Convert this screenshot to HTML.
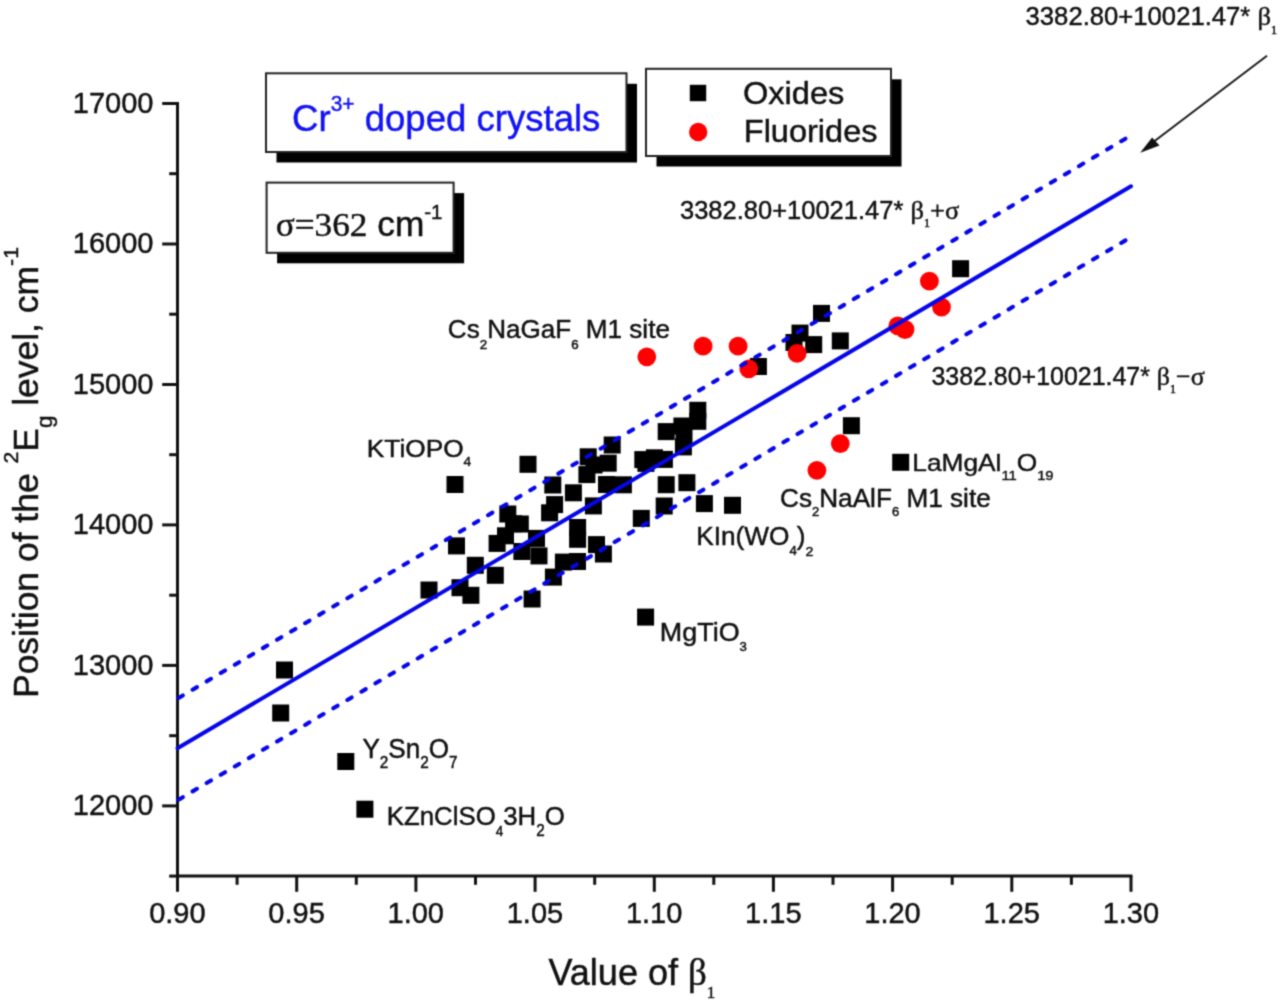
<!DOCTYPE html>
<html><head><meta charset="utf-8"><title>Cr3+ doped crystals: 2Eg level vs beta1</title>
<style>html,body{margin:0;padding:0;background:#fff;}body{width:1280px;height:1004px;overflow:hidden;}svg{display:block;}text{font-family:"Liberation Sans", Arial, Helvetica, sans-serif;fill:#111;stroke:#111;stroke-width:0.45px;}.sf{font-family:"Liberation Serif", "Times New Roman", serif;}.bl{fill:#1212f4;stroke:#1212f4;}</style></head><body>
<svg width="1280" height="1004" viewBox="0 0 1280 1004">
<defs><filter id="soft" filterUnits="userSpaceOnUse" x="0" y="0" width="1280" height="1004" color-interpolation-filters="sRGB"><feConvolveMatrix order="3" kernelMatrix="0.0361 0.1178 0.0361 0.1178 0.3846 0.1178 0.0361 0.1178 0.0361" edgeMode="duplicate"/></filter></defs>
<g filter="url(#soft)">
<rect x="0" y="0" width="1280" height="1004" fill="#fff"/>
<g id="B_title"><rect x="276.5" y="83.8" width="360.5" height="78.7" fill="#000"/><rect x="266.0" y="73.3" width="360.5" height="78.7" fill="#fff" stroke="#222" stroke-width="2"/></g>
<g id="B_sigma"><rect x="277.1" y="193.1" width="187.0" height="70.2" fill="#000"/><rect x="266.6" y="182.6" width="187.0" height="70.2" fill="#fff" stroke="#222" stroke-width="2"/></g>
<g id="B_leg"><rect x="656.5" y="79.3" width="245.0" height="87.2" fill="#000"/><rect x="646.0" y="68.8" width="245.0" height="87.2" fill="#fff" stroke="#222" stroke-width="2"/></g>
<g id="L_title" transform="matrix(0.99653,0,0,1.01463,0.101,-1.008)"><text x="293" y="129.75" font-size="36.7" class="bl">Cr<tspan class="sb" font-size="21" dy="-19.8">3+</tspan><tspan dy="19.8"> doped crystals</tspan></text></g>
<g id="L_sigma" transform="matrix(1.02302,0,0,0.99340,-7.721,1.529)"><text x="277" y="235.6" font-size="34.5"><tspan class="sf">σ=362</tspan> cm<tspan font-size="20" dy="-17">-1</tspan></text></g>
<rect x="689.8" y="84.8" width="16.4" height="16.4" fill="#000"/>
<circle cx="698.2" cy="132" r="9.2" fill="#f00"/>
<g id="L_ox" transform="matrix(1.03441,0,0,0.98262,-26.599,2.407)"><text x="744" y="103" font-size="31.5">Oxides</text></g>
<g id="L_fl" transform="matrix(1.03191,0,0,0.97281,-24.962,4.119)"><text x="745" y="142.2" font-size="31.5">Fluorides</text></g>
<g id="AX"><line x1="177.5" y1="102.0" x2="177.5" y2="876.1" stroke="#111" stroke-width="3"/>
<line x1="176.0" y1="876.1" x2="1132.5" y2="876.1" stroke="#111" stroke-width="3"/>
<line x1="177.5" y1="876.1" x2="177.5" y2="891.8" stroke="#111" stroke-width="3"/>
<line x1="237.1" y1="876.1" x2="237.1" y2="884.8" stroke="#111" stroke-width="3"/>
<line x1="296.7" y1="876.1" x2="296.7" y2="891.8" stroke="#111" stroke-width="3"/>
<line x1="356.3" y1="876.1" x2="356.3" y2="884.8" stroke="#111" stroke-width="3"/>
<line x1="415.9" y1="876.1" x2="415.9" y2="891.8" stroke="#111" stroke-width="3"/>
<line x1="475.5" y1="876.1" x2="475.5" y2="884.8" stroke="#111" stroke-width="3"/>
<line x1="535.1" y1="876.1" x2="535.1" y2="891.8" stroke="#111" stroke-width="3"/>
<line x1="594.7" y1="876.1" x2="594.7" y2="884.8" stroke="#111" stroke-width="3"/>
<line x1="654.3" y1="876.1" x2="654.3" y2="891.8" stroke="#111" stroke-width="3"/>
<line x1="713.8" y1="876.1" x2="713.8" y2="884.8" stroke="#111" stroke-width="3"/>
<line x1="773.4" y1="876.1" x2="773.4" y2="891.8" stroke="#111" stroke-width="3"/>
<line x1="833.0" y1="876.1" x2="833.0" y2="884.8" stroke="#111" stroke-width="3"/>
<line x1="892.6" y1="876.1" x2="892.6" y2="891.8" stroke="#111" stroke-width="3"/>
<line x1="952.2" y1="876.1" x2="952.2" y2="884.8" stroke="#111" stroke-width="3"/>
<line x1="1011.8" y1="876.1" x2="1011.8" y2="891.8" stroke="#111" stroke-width="3"/>
<line x1="1071.4" y1="876.1" x2="1071.4" y2="884.8" stroke="#111" stroke-width="3"/>
<line x1="1131.0" y1="876.1" x2="1131.0" y2="891.8" stroke="#111" stroke-width="3"/>
<line x1="169.2" y1="876.1" x2="177.5" y2="876.1" stroke="#111" stroke-width="3"/>
<line x1="162.2" y1="805.9" x2="177.5" y2="805.9" stroke="#111" stroke-width="3"/>
<line x1="169.2" y1="735.7" x2="177.5" y2="735.7" stroke="#111" stroke-width="3"/>
<line x1="162.2" y1="665.4" x2="177.5" y2="665.4" stroke="#111" stroke-width="3"/>
<line x1="169.2" y1="595.2" x2="177.5" y2="595.2" stroke="#111" stroke-width="3"/>
<line x1="162.2" y1="524.9" x2="177.5" y2="524.9" stroke="#111" stroke-width="3"/>
<line x1="169.2" y1="454.7" x2="177.5" y2="454.7" stroke="#111" stroke-width="3"/>
<line x1="162.2" y1="384.5" x2="177.5" y2="384.5" stroke="#111" stroke-width="3"/>
<line x1="169.2" y1="314.2" x2="177.5" y2="314.2" stroke="#111" stroke-width="3"/>
<line x1="162.2" y1="244.0" x2="177.5" y2="244.0" stroke="#111" stroke-width="3"/>
<line x1="169.2" y1="173.7" x2="177.5" y2="173.7" stroke="#111" stroke-width="3"/>
<line x1="162.2" y1="103.5" x2="177.5" y2="103.5" stroke="#111" stroke-width="3"/>
</g>
<g transform="translate(-953.5,0)"><g id="L_x0" transform="matrix(1.00053,0,0,1.00000,-0.689,-0.060)"><text x="1131.0" y="923" font-size="29" text-anchor="middle">0.90</text></g>
</g>
<g transform="translate(-834.31,0)"><g id="L_x2" transform="matrix(1.00053,0,0,1.00000,-0.689,-0.060)"><text x="1131.0" y="923" font-size="29" text-anchor="middle">0.95</text></g>
</g>
<g transform="translate(-715.12,0)"><g id="L_x4" transform="matrix(1.00053,0,0,1.00000,-0.689,-0.060)"><text x="1131.0" y="923" font-size="29" text-anchor="middle">1.00</text></g>
</g>
<g transform="translate(-595.94,0)"><g id="L_x6" transform="matrix(1.00053,0,0,1.00000,-0.689,-0.060)"><text x="1131.0" y="923" font-size="29" text-anchor="middle">1.05</text></g>
</g>
<g transform="translate(-476.75,0)"><g id="L_x8" transform="matrix(1.00053,0,0,1.00000,-0.689,-0.060)"><text x="1131.0" y="923" font-size="29" text-anchor="middle">1.10</text></g>
</g>
<g transform="translate(-357.56,0)"><g id="L_x10" transform="matrix(1.00053,0,0,1.00000,-0.689,-0.060)"><text x="1131.0" y="923" font-size="29" text-anchor="middle">1.15</text></g>
</g>
<g transform="translate(-238.37,0)"><g id="L_x12" transform="matrix(1.00053,0,0,1.00000,-0.689,-0.060)"><text x="1131.0" y="923" font-size="29" text-anchor="middle">1.20</text></g>
</g>
<g transform="translate(-119.19,0)"><g id="L_x14" transform="matrix(1.00053,0,0,1.00000,-0.689,-0.060)"><text x="1131.0" y="923" font-size="29" text-anchor="middle">1.25</text></g>
</g>
<g transform="translate(0.0,0)"><g id="L_xref" transform="matrix(1.00053,0,0,1.00000,-0.689,-0.060)"><text x="1131.0" y="923" font-size="29" text-anchor="middle">1.30</text></g>
</g>
<g transform="translate(0,0.0)"><g id="L_yref" transform="matrix(1.00259,0,0,1.00000,0.628,-0.655)"><text x="152.5" y="815.9" font-size="29" text-anchor="end">12000</text></g>
</g>
<g transform="translate(0,-140.48)"><g id="L_y13000" transform="matrix(1.00259,0,0,1.00000,0.628,-0.655)"><text x="152.5" y="815.9" font-size="29" text-anchor="end">13000</text></g>
</g>
<g transform="translate(0,-280.96)"><g id="L_y14000" transform="matrix(1.00259,0,0,1.00000,0.628,-0.655)"><text x="152.5" y="815.9" font-size="29" text-anchor="end">14000</text></g>
</g>
<g transform="translate(0,-421.44)"><g id="L_y15000" transform="matrix(1.00259,0,0,1.00000,0.628,-0.655)"><text x="152.5" y="815.9" font-size="29" text-anchor="end">15000</text></g>
</g>
<g transform="translate(0,-561.92)"><g id="L_y16000" transform="matrix(1.00259,0,0,1.00000,0.628,-0.655)"><text x="152.5" y="815.9" font-size="29" text-anchor="end">16000</text></g>
</g>
<g transform="translate(0,-702.4)"><g id="L_y17000" transform="matrix(1.00259,0,0,1.00000,0.628,-0.655)"><text x="152.5" y="815.9" font-size="29" text-anchor="end">17000</text></g>
</g>
<g id="L_xt" transform="matrix(1.00000,0,0,1.00000,0.000,0.000)"><text x="548.5" y="984.5" font-size="36">Value of <tspan class="sf" font-size="37">β</tspan><tspan class="sf" font-size="17" dy="13">1</tspan></text></g>
<g id="L_ytw" transform="translate(37.8,697) rotate(-90)"><g id="L_yt" transform="matrix(1.04278,0,0,1.02444,-0.984,-0.035)"><text x="0" y="0" font-size="34">Position of the <tspan font-size="20.4" dy="-19.7">2</tspan><tspan dy="19.7">E</tspan><tspan font-size="21.5" dy="14">g</tspan><tspan dy="-14"> level, cm</tspan><tspan font-size="20.4" dy="-19.7">-1</tspan></text></g>
</g>
<g id="D"><rect x="272.2" y="704.5" width="17" height="17" fill="#000"/>
<rect x="276.0" y="661.5" width="17" height="17" fill="#000"/>
<rect x="337.3" y="753.0" width="17" height="17" fill="#000"/>
<rect x="356.4" y="800.7" width="17" height="17" fill="#000"/>
<rect x="420.5" y="581.5" width="17" height="17" fill="#000"/>
<rect x="446.5" y="476.0" width="17" height="17" fill="#000"/>
<rect x="448.0" y="537.4" width="17" height="17" fill="#000"/>
<rect x="451.5" y="579.2" width="17" height="17" fill="#000"/>
<rect x="462.4" y="586.8" width="17" height="17" fill="#000"/>
<rect x="466.8" y="556.8" width="17" height="17" fill="#000"/>
<rect x="486.8" y="566.8" width="17" height="17" fill="#000"/>
<rect x="488.6" y="534.9" width="17" height="17" fill="#000"/>
<rect x="497.0" y="527.3" width="17" height="17" fill="#000"/>
<rect x="505.1" y="515.3" width="17" height="17" fill="#000"/>
<rect x="499.3" y="505.5" width="17" height="17" fill="#000"/>
<rect x="511.8" y="515.5" width="17" height="17" fill="#000"/>
<rect x="513.4" y="543.0" width="17" height="17" fill="#000"/>
<rect x="519.5" y="455.8" width="17" height="17" fill="#000"/>
<rect x="523.6" y="590.5" width="17" height="17" fill="#000"/>
<rect x="528.0" y="529.9" width="17" height="17" fill="#000"/>
<rect x="530.5" y="547.4" width="17" height="17" fill="#000"/>
<rect x="541.1" y="504.3" width="17" height="17" fill="#000"/>
<rect x="546.1" y="496.1" width="17" height="17" fill="#000"/>
<rect x="544.3" y="476.5" width="17" height="17" fill="#000"/>
<rect x="544.9" y="568.6" width="17" height="17" fill="#000"/>
<rect x="554.9" y="553.6" width="17" height="17" fill="#000"/>
<rect x="569.0" y="553.0" width="17" height="17" fill="#000"/>
<rect x="564.9" y="484.3" width="17" height="17" fill="#000"/>
<rect x="569.1" y="519.0" width="17" height="17" fill="#000"/>
<rect x="569.1" y="530.8" width="17" height="17" fill="#000"/>
<rect x="584.9" y="497.4" width="17" height="17" fill="#000"/>
<rect x="588.0" y="536.1" width="17" height="17" fill="#000"/>
<rect x="594.9" y="545.5" width="17" height="17" fill="#000"/>
<rect x="598.0" y="476.0" width="17" height="17" fill="#000"/>
<rect x="614.9" y="476.3" width="17" height="17" fill="#000"/>
<rect x="578.4" y="466.1" width="17" height="17" fill="#000"/>
<rect x="579.7" y="448.3" width="17" height="17" fill="#000"/>
<rect x="599.7" y="454.7" width="17" height="17" fill="#000"/>
<rect x="603.7" y="436.5" width="17" height="17" fill="#000"/>
<rect x="632.8" y="509.9" width="17" height="17" fill="#000"/>
<rect x="637.1" y="608.6" width="17" height="17" fill="#000"/>
<rect x="634.3" y="451.1" width="17" height="17" fill="#000"/>
<rect x="645.9" y="449.3" width="17" height="17" fill="#000"/>
<rect x="655.9" y="450.9" width="17" height="17" fill="#000"/>
<rect x="657.7" y="423.1" width="17" height="17" fill="#000"/>
<rect x="673.4" y="417.5" width="17" height="17" fill="#000"/>
<rect x="674.9" y="438.4" width="17" height="17" fill="#000"/>
<rect x="689.3" y="401.8" width="17" height="17" fill="#000"/>
<rect x="689.3" y="412.8" width="17" height="17" fill="#000"/>
<rect x="657.7" y="476.2" width="17" height="17" fill="#000"/>
<rect x="678.4" y="474.2" width="17" height="17" fill="#000"/>
<rect x="655.7" y="497.5" width="17" height="17" fill="#000"/>
<rect x="695.9" y="495.1" width="17" height="17" fill="#000"/>
<rect x="724.0" y="496.8" width="17" height="17" fill="#000"/>
<rect x="749.9" y="358.0" width="17" height="17" fill="#000"/>
<rect x="785.5" y="334.0" width="17" height="17" fill="#000"/>
<rect x="791.5" y="324.6" width="17" height="17" fill="#000"/>
<rect x="805.2" y="336.1" width="17" height="17" fill="#000"/>
<rect x="813.0" y="304.9" width="17" height="17" fill="#000"/>
<rect x="831.8" y="332.4" width="17" height="17" fill="#000"/>
<rect x="842.9" y="417.2" width="17" height="17" fill="#000"/>
<rect x="892.2" y="453.8" width="17" height="17" fill="#000"/>
<rect x="952.1" y="260.2" width="17" height="17" fill="#000"/>
<rect x="585.5" y="456.5" width="17" height="17" fill="#000"/>
<rect x="637.4" y="454.9" width="17" height="17" fill="#000"/>
<rect x="675.5" y="429.0" width="17" height="17" fill="#000"/>
<circle cx="646.8" cy="356.8" r="9.4" fill="#f00"/>
<circle cx="703.1" cy="346.2" r="9.4" fill="#f00"/>
<circle cx="738.1" cy="346.2" r="9.4" fill="#f00"/>
<circle cx="748.8" cy="368.8" r="9.4" fill="#f00"/>
<circle cx="797.1" cy="353.4" r="9.4" fill="#f00"/>
<circle cx="816.9" cy="470.3" r="9.4" fill="#f00"/>
<circle cx="840.3" cy="443.6" r="9.4" fill="#f00"/>
<circle cx="897.8" cy="325.9" r="9.4" fill="#f00"/>
<circle cx="905.0" cy="329.5" r="9.4" fill="#f00"/>
<circle cx="929.4" cy="281.2" r="9.4" fill="#f00"/>
<circle cx="941.5" cy="307.1" r="9.4" fill="#f00"/>
<line x1="177.5" y1="748.3" x2="1131.0" y2="186.3" stroke="#0606e8" stroke-width="4.0" stroke-linecap="round"/>
<line x1="177.5" y1="698.6" x2="1131.0" y2="135.4" stroke="#0606e8" stroke-width="4.1" stroke-dasharray="5 11.34" stroke-dashoffset="-1.2" stroke-linecap="round"/>
<line x1="177.5" y1="800.3" x2="1131.0" y2="237.1" stroke="#0606e8" stroke-width="4.1" stroke-dasharray="5 11.34" stroke-dashoffset="-1.2" stroke-linecap="round"/>
<line x1="1267" y1="55.8" x2="1152" y2="143" stroke="#1a1a1a" stroke-width="2"/>
<polygon points="1140.2,152.8 1152.1,137.4 1159.5,145.6" fill="#111"/>
</g>
<g id="L_ann_top" transform="matrix(1.02687,0,0,1.00000,-28.494,1.200)"><text x="1026.5" y="23.8" font-size="25">3382.80+10021.47* <tspan class="sf" font-size="26">β</tspan><tspan class="sf" font-size="12" dy="9">1</tspan></text></g>
<g id="L_ann_p" transform="matrix(1.02005,0,0,1.00000,-13.625,0.775)"><text x="680" y="218.6" font-size="25">3382.80+10021.47* <tspan class="sf" font-size="26">β</tspan><tspan class="sf" font-size="12" dy="8">1</tspan><tspan class="sf" font-size="26" dy="-8">+σ</tspan></text></g>
<g id="L_ann_m" transform="matrix(0.99810,0,0,1.00000,2.173,1.505)"><text x="931" y="383.8" font-size="25">3382.80+10021.47* <tspan class="sf" font-size="26">β</tspan><tspan class="sf" font-size="12" dy="8">1</tspan><tspan class="sf" font-size="26" dy="-8">−σ</tspan></text></g>
<g id="L_csga" transform="matrix(1.04329,0,0,0.99857,-20.300,0.787)"><text x="448.75" y="338" font-size="25"><tspan>Cs</tspan><tspan class="sb" font-size="12.8" dy="10.75">2</tspan><tspan dy="-10.75">NaGaF</tspan><tspan class="sb" font-size="12.8" dy="10.75">6</tspan><tspan dy="-10.75"> M1 site</tspan></text></g>
<g id="L_ktio" transform="matrix(1.05109,0,0,0.99367,-20.497,2.091)"><text x="368.5" y="458" font-size="25"><tspan>KTiOPO</tspan><tspan class="sb" font-size="13" dy="9.3">4</tspan></text></g>
<g id="L_kin" transform="matrix(1.04987,0,0,1.01249,-35.549,-5.767)"><text x="697" y="543.5" font-size="25"><tspan>KIn(WO</tspan><tspan class="sb" font-size="12.5" dy="10.6">4</tspan><tspan dy="-10.6">)</tspan><tspan class="sb" font-size="13.5" dy="11.6">2</tspan></text></g>
<g id="L_csal" transform="matrix(1.04629,0,0,1.05826,-37.134,-28.576)"><text x="781" y="505.8" font-size="25"><tspan>Cs</tspan><tspan class="sb" font-size="12.5" dy="9.1">2</tspan><tspan dy="-9.1">NaAlF</tspan><tspan class="sb" font-size="12.5" dy="9.1">6</tspan><tspan dy="-9.1"> M1 site</tspan></text></g>
<g id="L_lamg" transform="matrix(1.05212,0,0,0.96236,-49.513,17.556)"><text x="914.2" y="471.25" font-size="25"><tspan>LaMgAl</tspan><tspan class="sb" font-size="14" dy="9.35">11</tspan><tspan dy="-9.35">O</tspan><tspan class="sb" font-size="14" dy="9.35">19</tspan></text></g>
<g id="L_mgti" transform="matrix(1.05546,0,0,0.98621,-38.633,8.590)"><text x="661.8" y="641.25" font-size="25.5"><tspan>MgTiO</tspan><tspan class="sb" font-size="12.5" dy="10">3</tspan></text></g>
<g id="L_y2sn" transform="matrix(1.02352,0,0,1.05435,-9.659,-41.567)"><text x="363.5" y="758" font-size="25.5"><tspan>Y</tspan><tspan class="sb" font-size="15" dy="9.8">2</tspan><tspan dy="-9.8">Sn</tspan><tspan class="sb" font-size="15" dy="9.8">2</tspan><tspan dy="-9.8">O</tspan><tspan class="sb" font-size="15" dy="9.8">7</tspan></text></g>
<g id="L_kzn" transform="matrix(1.01574,0,0,1.03886,-8.324,-31.885)"><text x="389" y="824.9" font-size="25.4"><tspan>KZnClSO</tspan><tspan class="sb" font-size="13.3" dy="10.2">4</tspan><tspan dy="-10.2">3H</tspan><tspan class="sb" font-size="15" dy="10.9">2</tspan><tspan dy="-10.9">O</tspan></text></g>
</g>
</svg>
</body></html>
